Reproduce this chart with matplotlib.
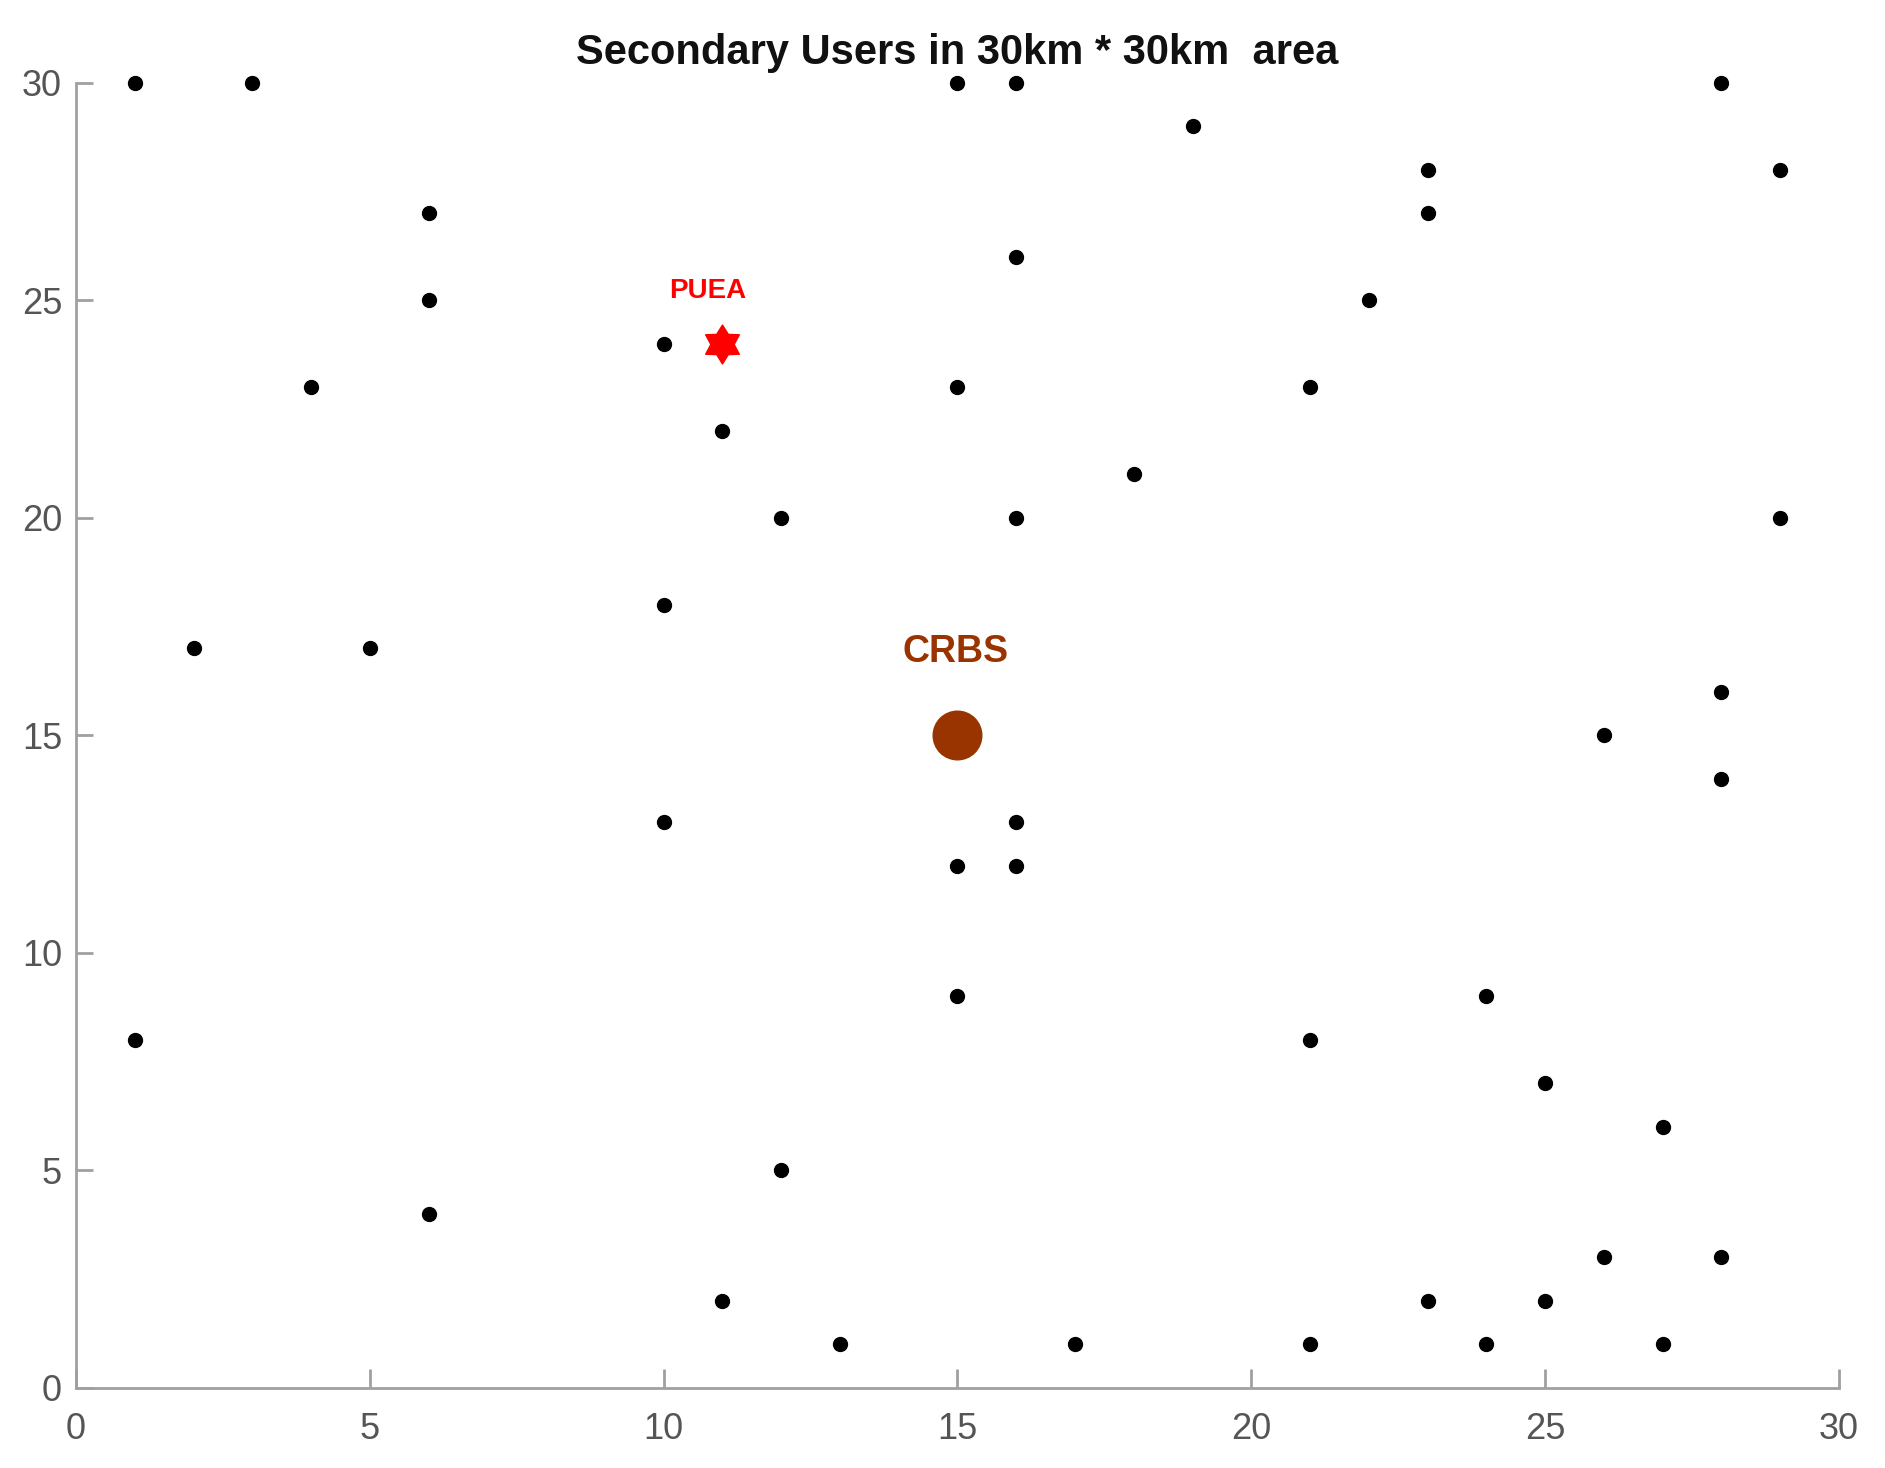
import matplotlib
matplotlib.use("Agg")
import matplotlib.pyplot as plt
from matplotlib.path import Path

# secondary users (km)
su_x = [1, 3, 15, 16, 28, 19, 23, 29, 6, 23, 16, 6, 22, 10, 4, 15, 21, 11, 18, 12,
        16, 29, 10, 2, 5, 28, 26, 28, 10, 16, 15, 16, 24, 15, 1, 21, 25, 27, 12, 6,
        26, 28, 11, 23, 25, 13, 17, 21, 24, 27]
su_y = [30, 30, 30, 30, 30, 29, 28, 28, 27, 27, 26, 25, 25, 24, 23, 23, 23, 22, 21, 20,
        20, 20, 18, 17, 17, 16, 15, 14, 13, 13, 12, 12, 9, 9, 8, 8, 7, 6, 5, 4,
        3, 3, 2, 2, 2, 1, 1, 1, 1, 1]

puea_x, puea_y = 11, 24
crbs_x, crbs_y = 15, 15

ticks = [0, 5, 10, 15, 20, 25, 30]

sans = ['Liberation Sans', 'DejaVu Sans']

fig = plt.figure(figsize=(18.85, 14.68), dpi=100)
ax = fig.add_axes([0.0403, 0.0545, 0.9353, 0.889])

hexagram = Path.unit_regular_star(6, innerCircle=0.6)

ax.plot(su_x, su_y, 'o', color='black', markersize=10, clip_on=False, zorder=3)
ax.plot(puea_x, puea_y, marker=hexagram, color='red', markersize=28,
        linestyle='none', clip_on=False, zorder=3)
ax.plot(crbs_x, crbs_y, 'o', color='#993300', markersize=35, clip_on=False, zorder=3)

ax.text(10.75, 25.22, 'PUEA', color='red', fontsize=20, fontweight='bold',
        ha='center', va='center', family=sans)
ax.text(14.97, 16.92, 'CRBS', color='#993300', fontsize=27, fontweight='bold',
        ha='center', va='center', family=sans)

ax.set_xlim(0, 30)
ax.set_ylim(0, 30)
ax.set_xticks(ticks)
ax.set_yticks(ticks)

for s in ['top', 'right']:
    ax.spines[s].set_visible(False)
for s in ['left', 'bottom']:
    ax.spines[s].set_color('#a0a0a0')
    ax.spines[s].set_linewidth(2)

ax.tick_params(axis='x', direction='in', length=14, width=2, color='#a0a0a0',
               labelsize=26, labelcolor='#555555', pad=17)
ax.tick_params(axis='y', direction='in', length=12, width=2, color='#a0a0a0',
               labelsize=26, labelcolor='#555555', pad=10)
for lab in ax.get_xticklabels() + ax.get_yticklabels():
    lab.set_family(sans)

fig.text(0.508, 0.964, 'Secondary Users in 30km * 30km  area', fontsize=30,
         fontweight='bold', ha='center', va='center', family=sans, color='#111111')

fig.savefig('out.png', dpi=100)
